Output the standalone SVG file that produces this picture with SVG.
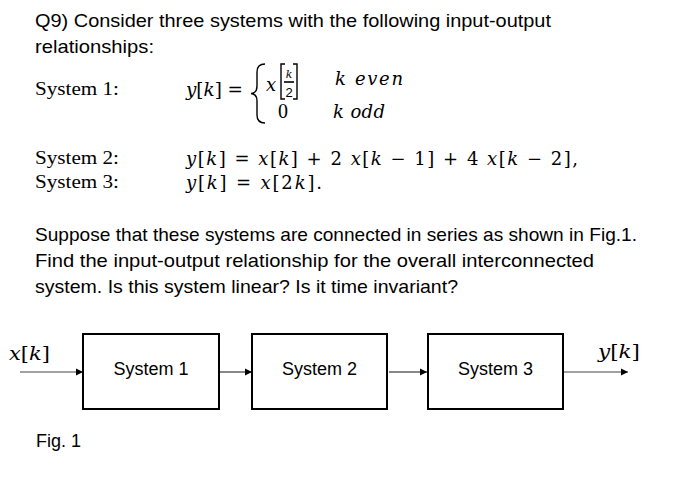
<svg xmlns="http://www.w3.org/2000/svg" width="688" height="479" viewBox="0 0 688 479">
<style>
.sans{font-family:"Liberation Sans","Open Sans",sans-serif;fill:#000}
.serif{font-family:"Liberation Serif","DejaVu Serif",serif;fill:#000}
.math{font-family:"DejaVu Serif","Liberation Serif",serif;font-style:italic;fill:#000}
.up{font-style:normal}
.box{fill:#fff;stroke:#000;stroke-width:2}
.wire{stroke:#444;stroke-width:1.2;fill:none}
.gwire{stroke:#888;stroke-width:2;fill:none}
</style>
<defs>
<marker id="ah" markerWidth="8" markerHeight="8" refX="7" refY="4" orient="auto" markerUnits="userSpaceOnUse">
<path d="M0,0.5 L7,4 L0,7.5 Z" fill="#000"/>
</marker>
</defs>
<rect width="688" height="479" fill="#fff"/>

<g id="question">
<text class="sans" x="35" y="27" font-size="19" textLength="516" lengthAdjust="spacingAndGlyphs">Q9) Consider three systems with the following input-output</text>
<text class="sans" x="35" y="53" font-size="19" textLength="119" lengthAdjust="spacingAndGlyphs">relationships:</text>
</g>

<g id="system1-eq">
<text class="serif" x="35" y="95" font-size="18" textLength="84" lengthAdjust="spacingAndGlyphs">System 1:</text>
<text class="math" x="186" y="96" font-size="18" textLength="57" lengthAdjust="spacingAndGlyphs">y<tspan class="up">[</tspan>k<tspan class="up">] =</tspan></text>
<path d="M265,64 Q257,64 257,72 L257,86 Q257,93 251,93.5 Q257,94 257,101 L257,115 Q257,123 265,123" fill="none" stroke="#000" stroke-width="1.4"/>
<text class="math" x="266" y="91" font-size="18">x</text>
<path d="M285,64 L281,64 L281,99 L285,99 M293,64 L297,64 L297,99 L293,99" fill="none" stroke="#000" stroke-width="1.4"/>
<text class="math" x="289" y="78" font-size="11" text-anchor="middle">k</text>
<line x1="284" y1="82" x2="294" y2="82" stroke="#000" stroke-width="1.6"/>
<text class="sans" x="289" y="97" font-size="13" text-anchor="middle">2</text>
<text class="math" x="335" y="85" font-size="18" textLength="68" lengthAdjust="spacing">k  even</text>
<text class="serif" x="278" y="118" font-size="20">0</text>
<text class="math" x="333" y="118" font-size="18" textLength="52" lengthAdjust="spacing">k odd</text>
</g>

<g id="system23-eq">
<text class="serif" x="35" y="164" font-size="18" textLength="84" lengthAdjust="spacingAndGlyphs">System 2:</text>
<text class="serif" x="35" y="188" font-size="18" textLength="84" lengthAdjust="spacingAndGlyphs">System 3:</text>
<text class="math" x="186" y="165" font-size="18" textLength="392" lengthAdjust="spacing">y<tspan class="up">[</tspan>k<tspan class="up">] = </tspan>x<tspan class="up">[</tspan>k<tspan class="up">] + 2 </tspan>x<tspan class="up">[</tspan>k<tspan class="up"> − 1] + 4 </tspan>x<tspan class="up">[</tspan>k<tspan class="up"> − 2],</tspan></text>
<text class="math" x="186" y="189" font-size="18" textLength="136" lengthAdjust="spacing">y<tspan class="up">[</tspan>k<tspan class="up">] = </tspan>x<tspan class="up">[2</tspan>k<tspan class="up">].</tspan></text>
</g>

<g id="paragraph">
<text class="sans" x="35" y="241" font-size="19" textLength="602" lengthAdjust="spacingAndGlyphs">Suppose that these systems are connected in series as shown in Fig.1.</text>
<text class="sans" x="35" y="267" font-size="19" textLength="559" lengthAdjust="spacingAndGlyphs">Find the input-output relationship for the overall interconnected</text>
<text class="sans" x="35" y="293" font-size="19" textLength="423" lengthAdjust="spacingAndGlyphs">system. Is this system linear? Is it time invariant?</text>
</g>

<g id="connectors">
<line class="wire" x1="20" y1="372" x2="83" y2="372" marker-end="url(#ah)"/>
<line class="gwire" x1="220" y1="372" x2="252" y2="372" marker-end="url(#ah)"/>
<line class="gwire" x1="389" y1="372" x2="427" y2="372" marker-end="url(#ah)"/>
<line class="wire" x1="564" y1="372" x2="628" y2="372" marker-end="url(#ah)"/>
</g>

<g id="system1">
<rect class="box" x="83" y="334" width="136" height="75"/>
<text class="sans" x="151" y="375" font-size="18" text-anchor="middle" textLength="75" lengthAdjust="spacingAndGlyphs">System 1</text>
</g>
<g id="system2">
<rect class="box" x="252" y="334" width="135" height="75"/>
<text class="sans" x="319.5" y="375" font-size="18" text-anchor="middle" textLength="75" lengthAdjust="spacingAndGlyphs">System 2</text>
</g>
<g id="system3">
<rect class="box" x="428" y="334" width="135" height="75"/>
<text class="sans" x="495.5" y="375" font-size="18" text-anchor="middle" textLength="75" lengthAdjust="spacingAndGlyphs">System 3</text>
</g>

<g id="labels">
<text class="math" x="9" y="360" font-size="18" textLength="41" lengthAdjust="spacingAndGlyphs">x<tspan class="up">[</tspan>k<tspan class="up">]</tspan></text>
<text class="math" x="598" y="358" font-size="18" textLength="42" lengthAdjust="spacingAndGlyphs">y<tspan class="up">[</tspan>k<tspan class="up">]</tspan></text>
<text class="sans" x="36" y="447" font-size="18">Fig. 1</text>
</g>
</svg>
